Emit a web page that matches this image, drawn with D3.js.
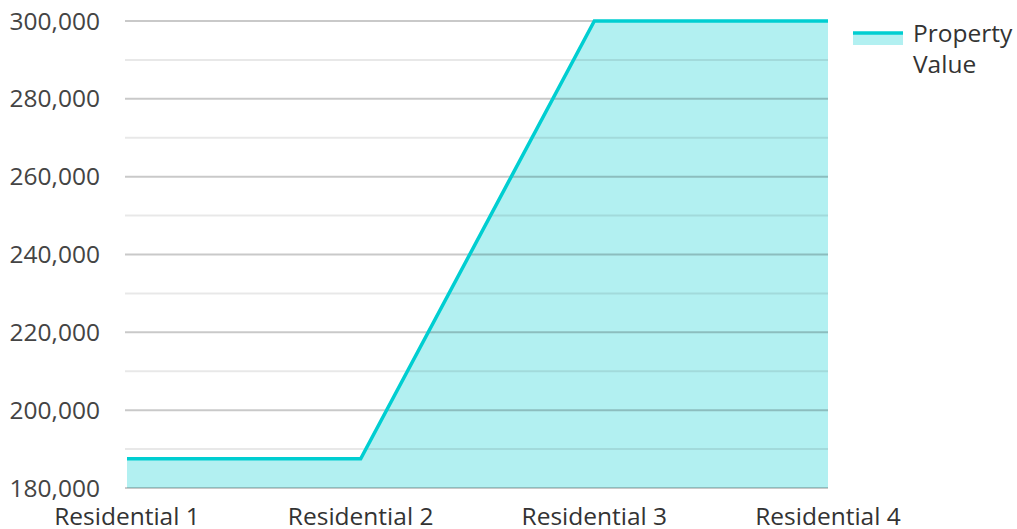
<!DOCTYPE html>
<html><head><meta charset="utf-8">
<script src="https://cdn.jsdelivr.net/npm/d3@7"></script>
<style>body{margin:0;background:#fff}svg{display:block;font-family:"Open Sans",sans-serif}</style>
</head><body><svg id="c" width="1017" height="529"></svg>
<script>
const categories = ["Residential 1","Residential 2","Residential 3","Residential 4"];
const propertyValues = [187500, 187500, 300000, 300000];
const yTicks = [180000,200000,220000,240000,260000,280000,300000];
const yMinorTicks = [190000,210000,230000,250000,270000,290000];
const seriesName = ["Property","Value"];

const svg = d3.select("#c");
const x = d3.scalePoint().domain(categories).range([127, 828]);
const y = d3.scaleLinear().domain([180000, 300000]).range([488, 21]);
const color = "#00CED1";

const area = d3.area().x((d,i)=>x(categories[i])).y0(y(180000)).y1(d=>y(d));
const line = d3.line().x((d,i)=>x(categories[i])).y(d=>y(d));

svg.append("path").datum(propertyValues).attr("d", area).attr("fill", color).attr("fill-opacity", 0.3);

svg.append("g").selectAll("line").data(yMinorTicks).join("line")
  .attr("x1",125).attr("x2",828).attr("y1",d=>y(d)).attr("y2",d=>y(d))
  .attr("stroke","rgba(0,0,0,0.09)").attr("stroke-width",2);
svg.append("g").selectAll("line").data(yTicks).join("line")
  .attr("x1",125).attr("x2",828).attr("y1",d=>y(d)).attr("y2",d=>y(d))
  .attr("stroke","rgba(0,0,0,0.21)").attr("stroke-width",2);

svg.append("path").datum(propertyValues).attr("d", line).attr("fill","none")
  .attr("stroke", color).attr("stroke-width", 3.5);

const fmt = d3.format(",");
svg.append("g").selectAll("text").data(yTicks).join("text")
  .attr("x",100).attr("y",d=>y(d)).attr("dy","0.35em").attr("text-anchor","end")
  .attr("font-size",24.5).attr("fill","#444").text(d=>fmt(d));

svg.append("g").selectAll("text").data(categories).join("text")
  .attr("x",d=>x(d)).attr("y",525).attr("text-anchor","middle")
  .attr("font-size",24.5).attr("fill","#333").text(d=>d);

const lg = svg.append("g");
lg.append("rect").attr("x",853).attr("y",33).attr("width",50).attr("height",12).attr("fill",color).attr("fill-opacity",0.3);
lg.append("line").attr("x1",853).attr("x2",903).attr("y1",33).attr("y2",33).attr("stroke",color).attr("stroke-width",3.5);
lg.selectAll("text").data(seriesName).join("text")
  .attr("x",913).attr("y",(d,i)=>42+i*31).attr("font-size",24.5).attr("fill","#333").text(d=>d);
</script></body></html>
